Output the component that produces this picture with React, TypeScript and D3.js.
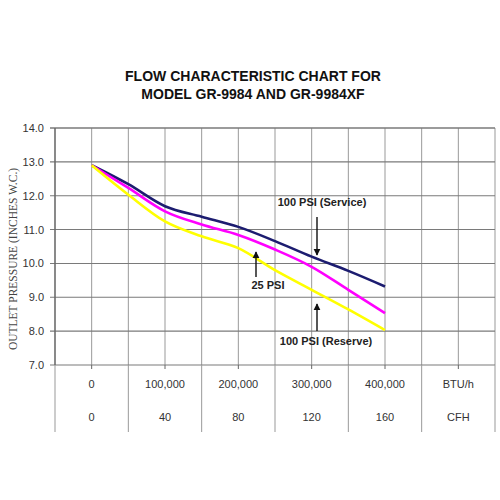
import React from 'react';
import * as d3 from 'd3';

// flow (BTU/h) sample points and outlet pressure
const btu = [0, 50000, 100000, 150000, 200000, 250000, 300000, 350000, 400000];
const service = [12.9, 12.34, 11.69, 11.38, 11.08, 10.66, 10.2, 9.78, 9.32];
const psi25 = [12.9, 12.23, 11.54, 11.15, 10.84, 10.41, 9.9, 9.22, 8.53];
const reserve = [12.9, 12.03, 11.24, 10.8, 10.45, 9.8, 9.22, 8.64, 8.03];

const yTicks = [7, 8, 9, 10, 11, 12, 13, 14];
const btuLabels = ['0', '100,000', '200,000', '300,000', '400,000', 'BTU/h'];
const cfhLabels = ['0', '40', '80', '120', '160', 'CFH'];
const labelPos = [0, 100000, 200000, 300000, 400000, 500000];

const series = [
  { name: '100 PSI (Service)', values: service, color: '#1c1c70' },
  { name: '25 PSI', values: psi25, color: '#ff00ff' },
  { name: '100 PSI (Reserve)', values: reserve, color: '#ffff00' },
];

const W = 500;
const H = 500;
const left = 55;
const right = 495;
const top = 128;
const bottom = 365;
const tableBottom = 432;

const App: React.FC = () => {
  const x = d3.scaleLinear().domain([-50000, 550000]).range([left, right]);
  const y = d3.scaleLinear().domain([7, 14]).range([bottom, top]);

  const gridX = d3.range(-50000, 550001, 50000);
  const tableX = d3.range(-50000, 550001, 100000);

  const line = d3
    .line<number>()
    .x((_, i) => x(btu[i]))
    .y(d => y(d))
    .curve(d3.curveMonotoneX);

  const font = 'Arial, "Liberation Sans", sans-serif';

  return (
    <svg
      width={W}
      height={H}
      style={{ position: 'absolute', left: 0, top: 0, background: '#fff' }}
    >
      <defs>
        <marker id="head" viewBox="0 0 10 10" refX="9" refY="5" markerWidth="5" markerHeight="6" orient="auto">
          <path d="M0,0 L10,5 L0,10 z" fill="#111" />
        </marker>
      </defs>

      {/* title */}
      <text x={253} y={81} textAnchor="middle" fontFamily={font} fontWeight="bold" fontSize={14} fill="#111">
        FLOW CHARACTERISTIC CHART FOR
      </text>
      <text x={253} y={98.5} textAnchor="middle" fontFamily={font} fontWeight="bold" fontSize={14} fill="#111">
        MODEL GR-9984 AND GR-9984XF
      </text>

      {/* vertical grid */}
      {gridX.map(v => (
        <line key={'x' + v} x1={x(v)} x2={x(v)} y1={top} y2={bottom} stroke="#999" strokeWidth={1} />
      ))}

      {/* horizontal grid */}
      {yTicks.map(t => (
        <g key={'y' + t}>
          <line
            x1={left - 5}
            x2={right}
            y1={y(t)}
            y2={y(t)}
            stroke="#7a7a7a"
            strokeWidth={t === 14 ? 1.6 : 1.1}
          />
          <text x={44} y={y(t) + 4} textAnchor="end" fontFamily={font} fontSize={11} fill="#333">
            {t.toFixed(1)}
          </text>
        </g>
      ))}
      <line x1={left} x2={left} y1={top} y2={bottom} stroke="#666" strokeWidth={1.3} />

      {/* table below plot */}
      {tableX.map(v => (
        <line key={'t' + v} x1={x(v)} x2={x(v)} y1={bottom} y2={tableBottom} stroke="#999" strokeWidth={1} />
      ))}
      {labelPos.map((v, i) => (
        <g key={'l' + v}>
          <line x1={x(v)} x2={x(v)} y1={bottom} y2={bottom + 4} stroke="#666" strokeWidth={1} />
          <text x={x(v)} y={388} textAnchor="middle" fontFamily={font} fontSize={11} fill="#333">
            {btuLabels[i]}
          </text>
          <text x={x(v)} y={421} textAnchor="middle" fontFamily={font} fontSize={11} fill="#333">
            {cfhLabels[i]}
          </text>
        </g>
      ))}

      {/* y axis title */}
      <text
        transform={`translate(17, ${(168 + 350) / 2}) rotate(-90)`}
        textAnchor="middle"
        fontFamily='"Liberation Serif", "Times New Roman", serif'
        fontSize={11.5}
        fill="#444"
      >
        OUTLET PRESSURE (INCHES W.C.)
      </text>

      {/* curves */}
      {series.map(s => (
        <path key={s.name} d={line(s.values) || ''} fill="none" stroke={s.color} strokeWidth={2.6} />
      ))}

      {/* annotations */}
      <g fontFamily={font} fontWeight="bold" fontSize={11} fill="#222">
        <text x={322} y={206} textAnchor="middle">100 PSI (Service)</text>
        <text x={268} y={289} textAnchor="middle">25 PSI</text>
        <text x={326} y={345} textAnchor="middle">100 PSI (Reserve)</text>
      </g>
      <g stroke="#111" strokeWidth={1.4} markerEnd="url(#head)">
        <line x1={317} x2={317} y1={217} y2={255} />
        <line x1={256} x2={256} y1={277} y2={252} />
        <line x1={317} x2={317} y1={331} y2={304} />
      </g>
    </svg>
  );
};

export default App;
